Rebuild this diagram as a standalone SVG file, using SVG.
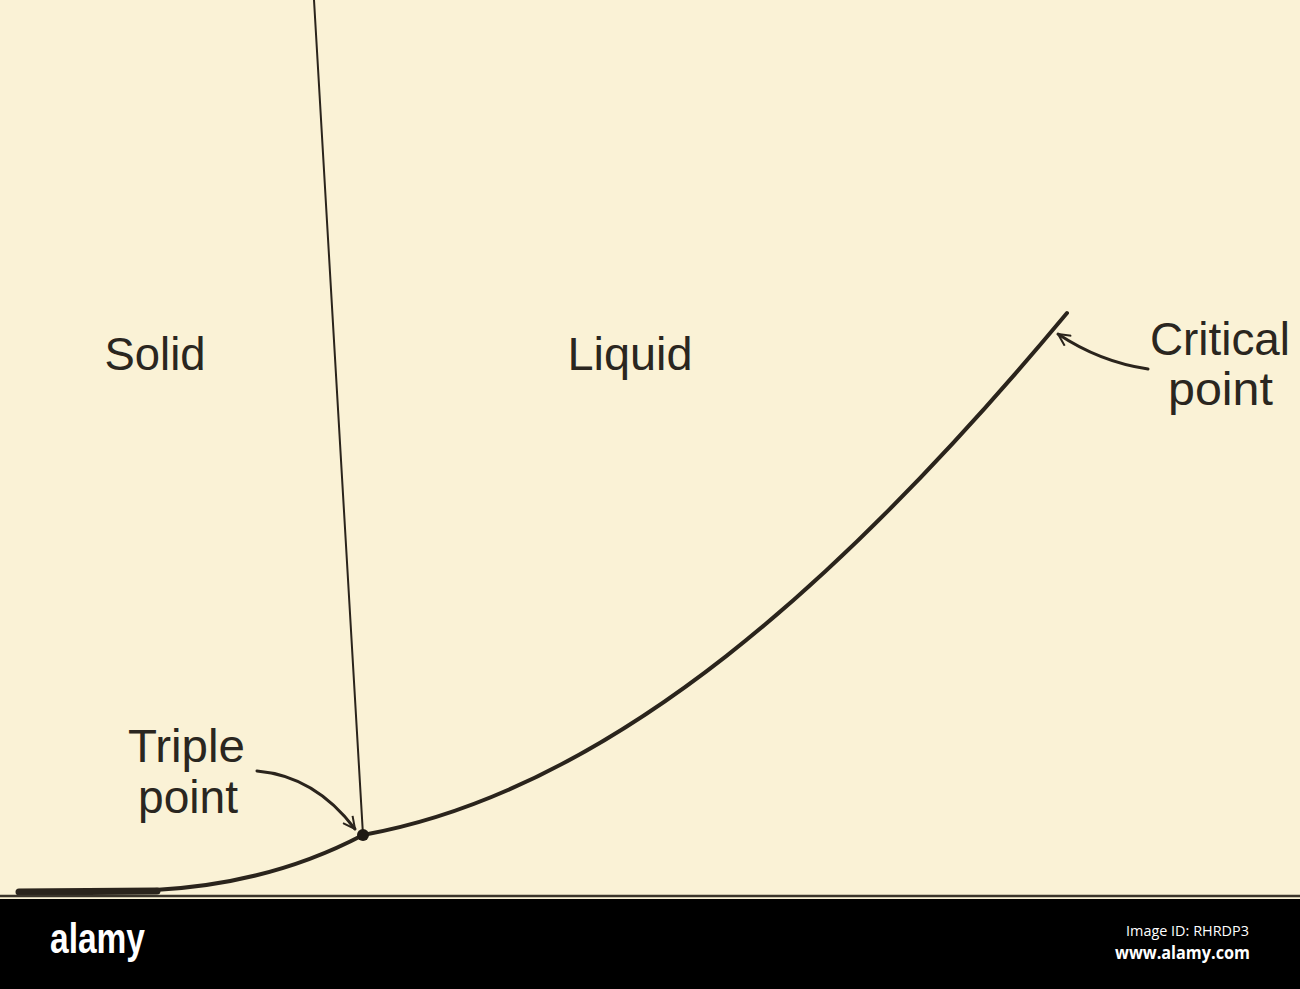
<svg xmlns="http://www.w3.org/2000/svg" width="1300" height="989" viewBox="0 0 1300 989">
<defs>
<style>
.lbl{font-family:"Liberation Sans","DejaVu Sans",sans-serif;font-size:46px;fill:#2a2620}
.ln{fill:none;stroke:#2a241c;stroke-linecap:round}
</style>
<marker id="ah" viewBox="0 0 14 14" refX="13" refY="7" markerWidth="14" markerHeight="14" orient="auto" markerUnits="userSpaceOnUse">
<path d="M1,1 L13,7 L1,13" fill="none" stroke="#2a241c" stroke-width="2"/>
</marker>
</defs>
<rect width="1300" height="989" fill="#faf2d6"/>
<g id="connectors">
<path class="ln" d="M314,0 L363,835" stroke-width="2"/>
<path class="ln" d="M155,890 Q270,884 363,835 C613,790 847,577 1067,313" stroke-width="4"/>
<path class="ln" d="M19,892 L157,891" stroke-width="7"/>
<path class="ln" d="M1148,369 Q1100,362 1058,334" stroke-width="3" marker-end="url(#ah)"/>
<path class="ln" d="M257,771 Q315,776 355,829" stroke-width="3" marker-end="url(#ah)"/>
</g>
<line x1="0" y1="896" x2="1300" y2="896" stroke="#3a342a" stroke-width="2.5"/>
<circle cx="363" cy="835" r="6" fill="#1f1a14"/>
<g id="solid"><text class="lbl" x="155" y="370" text-anchor="middle" textLength="101" lengthAdjust="spacingAndGlyphs">Solid</text></g>
<g id="liquid"><text class="lbl" x="630" y="370" text-anchor="middle" textLength="125" lengthAdjust="spacingAndGlyphs">Liquid</text></g>
<g id="critical"><text class="lbl" x="1150" y="355" textLength="140" lengthAdjust="spacingAndGlyphs">Critical</text><text class="lbl" x="1168" y="405" textLength="105" lengthAdjust="spacingAndGlyphs">point</text></g>
<g id="triple"><text class="lbl" x="128" y="762" textLength="117" lengthAdjust="spacingAndGlyphs">Triple</text><text class="lbl" x="138" y="813" textLength="100" lengthAdjust="spacingAndGlyphs">point</text></g>
<rect x="0" y="899" width="1300" height="90" fill="#000"/>
<text x="50" y="953" font-family="Liberation Sans,sans-serif" font-weight="bold" font-size="42" fill="#fff" textLength="95" lengthAdjust="spacingAndGlyphs">alamy</text>
<text x="1249" y="936" font-family="Open Sans,DejaVu Sans,sans-serif" font-size="15" fill="#fff" text-anchor="end" textLength="123" lengthAdjust="spacingAndGlyphs">Image ID: RHRDP3</text>
<text x="1250" y="959" font-family="Open Sans,DejaVu Sans,sans-serif" font-weight="bold" font-size="18" fill="#fff" text-anchor="end" textLength="135" lengthAdjust="spacingAndGlyphs">www.alamy.com</text>
</svg>
